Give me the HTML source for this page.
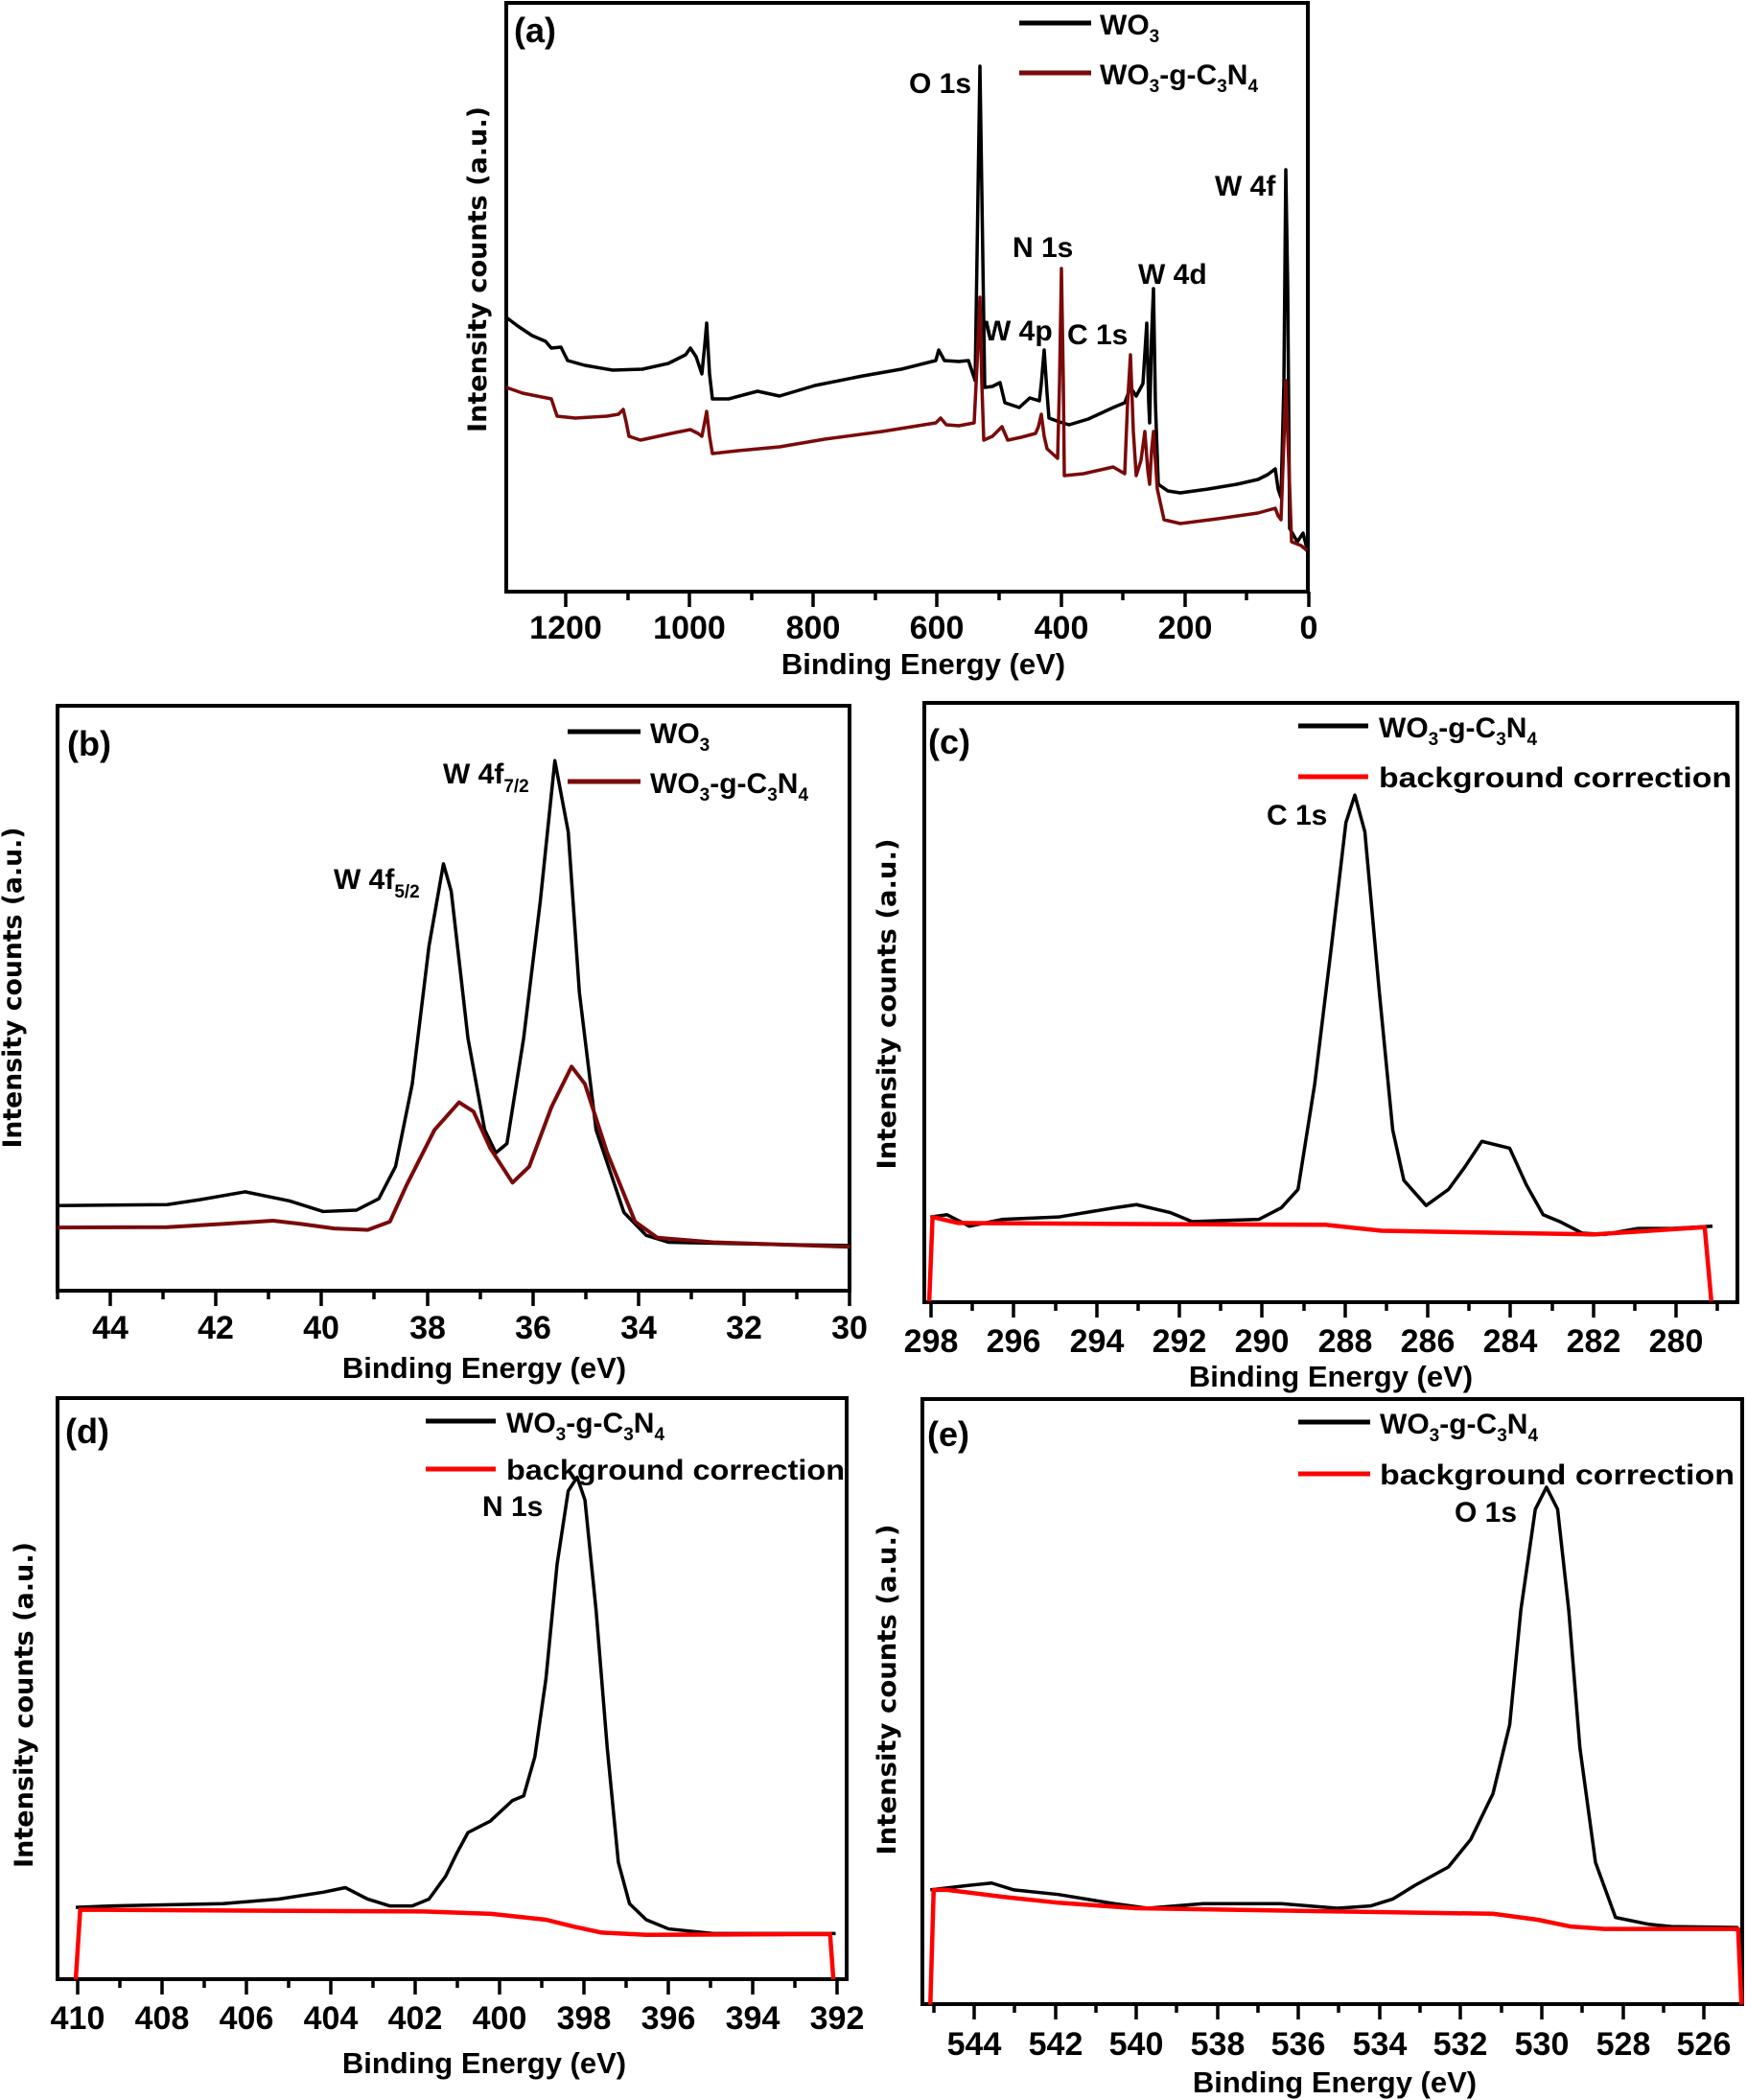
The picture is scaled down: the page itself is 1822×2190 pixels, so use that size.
<!DOCTYPE html>
<html><head><meta charset="utf-8"><style>
html,body{margin:0;padding:0;background:#fff}
svg{display:block}
text{font-family:"Liberation Sans",Arial,sans-serif;font-weight:bold;fill:#000}
.yl{font-family:"DejaVu Sans",sans-serif;font-weight:bold;font-size:27px}
.tk{font-size:34px}
.xl{font-size:31px}
.lg{font-size:30px}
.pk{font-size:30px}
.pl{font-size:36px}
.sub{font-size:19px}
</style></head><body>
<svg width="1822" height="2190" viewBox="0 0 1822 2190" xmlns="http://www.w3.org/2000/svg">
<g fill="none" stroke="#000" stroke-width="4">
<rect x="528" y="3" width="836" height="614"/>
<rect x="60" y="736" width="826" height="610"/>
<rect x="964" y="733" width="848" height="625"/>
<rect x="60" y="1458" width="823" height="606"/>
<rect x="962" y="1459" width="855" height="631"/>
</g>
<g stroke="#000" stroke-width="3.5">
<path d="M590 617v16M719 617v16M848 617v16M977 617v16M1107 617v16M1236 617v16M1365 617v16M655 617v9M784 617v9M913 617v9M1042 617v9M1171 617v9M1300 617v9"/>
<path d="M115 1346v16M225 1346v16M335 1346v16M446 1346v16M556 1346v16M666 1346v16M776 1346v16M886 1346v16M60 1346v9M170 1346v9M280 1346v9M390 1346v9M501 1346v9M611 1346v9M721 1346v9M831 1346v9"/>
<path d="M971 1358v16M1057 1358v16M1144 1358v16M1230 1358v16M1316 1358v16M1403 1358v16M1489 1358v16M1575 1358v16M1662 1358v16M1748 1358v16M1014 1358v9M1101 1358v9M1187 1358v9M1273 1358v9M1360 1358v9M1446 1358v9M1532 1358v9M1619 1358v9M1705 1358v9M1791 1358v9"/>
<path d="M81 2064v16M169 2064v16M257 2064v16M345 2064v16M433 2064v16M521 2064v16M609 2064v16M697 2064v16M785 2064v16M873 2064v16M125 2064v9M213 2064v9M301 2064v9M389 2064v9M477 2064v9M565 2064v9M653 2064v9M741 2064v9M829 2064v9"/>
<path d="M1016 2090v16M1101 2090v16M1185 2090v16M1270 2090v16M1354 2090v16M1439 2090v16M1523 2090v16M1608 2090v16M1693 2090v16M1777 2090v16M974 2090v9M1058 2090v9M1143 2090v9M1227 2090v9M1312 2090v9M1396 2090v9M1481 2090v9M1566 2090v9M1650 2090v9M1735 2090v9"/>
</g>

<g fill="none" stroke-width="3.5" stroke-linejoin="round">
<polyline stroke="#000" points="528,331 540,340 555,350 569,356 575,363 585,362 592,376 610,381 639,386 670,385 697,379 715,370 720,363 726,372 732,390 735,360 737,337 740,390 743,416 760,416 790,408 813,413 850,402 900,392 940,385 976,376 979,365 985,376 1000,377 1010,376 1017,397 1020,200 1022,69 1024,200 1027,404 1035,403 1043,399 1048,420 1063,425 1074,415 1084,418 1086,400 1089,365 1092,410 1094,436 1105,440 1115,443 1135,437 1161,425 1173,420 1179,404 1183,410 1185,413 1192,400 1196,337 1198,420 1199,441 1201,350 1203,301 1205,420 1208,505 1218,512 1231,514 1260,510 1290,505 1312,500 1322,495 1330,489 1333,510 1336,519 1339,400 1341,177 1343,300 1345,551 1353,565 1359,556 1363,572"/>
<polyline stroke="#7a0a0a" points="528,404 545,410 560,413 575,416 581,434 600,436 633,434 645,432 650,427 653,440 656,455 668,459 700,452 720,448 728,452 732,455 735,440 737,429 740,455 743,473 770,470 813,466 860,458 920,450 976,441 981,436 987,443 1000,444 1016,441 1019,380 1022,310 1024,400 1026,459 1035,455 1045,445 1051,459 1065,456 1080,452 1083,445 1086,432 1089,455 1092,468 1103,478 1105,400 1107,280 1109,400 1110,496 1130,494 1161,487 1173,494 1176,420 1179,370 1182,450 1185,496 1190,480 1194,450 1197,490 1199,505 1201,470 1203,450 1207,510 1214,542 1231,546 1270,541 1312,535 1330,530 1333,538 1336,542 1339,460 1341,397 1344,480 1347,565 1357,569 1363,574"/>
</g>

<g transform="translate(0,700) scale(1.162,0.4783)" fill="none" stroke-width="3.5" stroke-linejoin="round">
<polyline vector-effect="non-scaling-stroke" stroke="#000" points="52,1165 150,1163 180,1152 220,1135 260,1155 290,1178 320,1175 340,1150 355,1080 370,900 385,600 398,420 405,480 420,800 435,1000 445,1050 455,1030 470,800 485,500 498,195 510,350 520,700 535,1000 560,1180 580,1230 600,1245 700,1250 763,1252"/>
<polyline vector-effect="non-scaling-stroke" stroke="#7a0a0a" stroke-width="4" points="52,1213 150,1212 200,1205 245,1198 270,1205 300,1215 330,1218 350,1200 365,1120 390,1000 412,940 425,960 440,1040 460,1115 475,1080 495,950 513,862 525,900 545,1050 570,1200 590,1235 640,1245 763,1255"/>
<polyline vector-effect="non-scaling-stroke" stroke="#000" points="835,1190 850,1185 870,1210 900,1195 950,1190 1000,1170 1020,1163 1050,1180 1070,1200 1130,1195 1150,1170 1165,1130 1180,900 1195,600 1208,330 1216,270 1225,350 1238,700 1250,1000 1260,1110 1280,1165 1300,1130 1315,1080 1330,1025 1355,1040 1370,1120 1385,1185 1400,1200 1420,1225 1440,1228 1470,1215 1500,1215 1537,1210"/>
<polyline vector-effect="non-scaling-stroke" stroke="#f00" stroke-width="4.5" points="834,1374 837,1190 860,1203 1000,1205 1190,1207 1240,1220 1430,1228 1530,1212 1536,1374"/>
</g>

<g transform="translate(0,1440) scale(1.162,0.4783)" fill="none" stroke-width="3.5" stroke-linejoin="round">
<polyline vector-effect="non-scaling-stroke" stroke="#000" points="68,1148 100,1145 200,1140 250,1130 290,1115 310,1105 330,1130 350,1145 370,1145 385,1130 400,1080 410,1030 420,985 440,960 460,915 470,905 480,820 490,650 500,400 510,240 518,210 525,260 535,500 545,800 555,1050 565,1140 580,1175 600,1195 640,1205 750,1205"/>
<polyline vector-effect="non-scaling-stroke" stroke="#f00" stroke-width="4.5" points="68,1305 72,1153 200,1155 380,1157 440,1162 490,1175 515,1190 540,1203 580,1208 745,1206 748,1305"/>
<polyline vector-effect="non-scaling-stroke" stroke="#000" points="835,1110 870,1100 890,1095 910,1110 950,1120 1000,1140 1030,1150 1080,1140 1150,1140 1200,1150 1230,1145 1250,1130 1270,1100 1300,1060 1320,1000 1340,900 1355,750 1365,500 1378,280 1388,232 1398,280 1408,500 1418,800 1432,1050 1450,1170 1480,1185 1500,1190 1560,1192"/>
<polyline vector-effect="non-scaling-stroke" stroke="#f00" stroke-width="4.5" points="835,1360 838,1110 850,1110 900,1125 950,1138 1020,1150 1200,1157 1340,1162 1380,1175 1410,1190 1440,1195 1560,1195 1563,1360"/>
</g>

<g stroke-width="5">
<line x1="1063" y1="24" x2="1138" y2="24" stroke="#000"/>
<line x1="1063" y1="76" x2="1138" y2="76" stroke="#7a0a0a"/>
<line x1="592" y1="763" x2="668" y2="763" stroke="#000"/>
<line x1="592" y1="815" x2="668" y2="815" stroke="#7a0a0a"/>
<line x1="1354" y1="757" x2="1427" y2="757" stroke="#000"/>
<line x1="1354" y1="810" x2="1427" y2="810" stroke="#f00"/>
<line x1="444" y1="1482" x2="517" y2="1482" stroke="#000"/>
<line x1="444" y1="1532" x2="517" y2="1532" stroke="#f00"/>
<line x1="1354" y1="1483" x2="1429" y2="1483" stroke="#000"/>
<line x1="1354" y1="1537" x2="1429" y2="1537" stroke="#f00"/>
</g>

<text class="pl" x="536" y="44">(a)</text>
<text class="lg" x="1147" y="36">WO<tspan class="sub" dy="8">3</tspan></text>
<text class="lg" x="1147" y="88">WO<tspan class="sub" dy="8">3</tspan><tspan dy="-8">-g-C</tspan><tspan class="sub" dy="8">3</tspan><tspan dy="-8">N</tspan><tspan class="sub" dy="8">4</tspan></text>
<text class="pk" x="948" y="97">O 1s</text>
<text class="pk" x="1267" y="204">W 4f</text>
<text class="pk" x="1056" y="268">N 1s</text>
<text class="pk" x="1187" y="296">W 4d</text>
<text class="pk" x="1026" y="355">W 4p</text>
<text class="pk" x="1113" y="359">C 1s</text>
<g class="tk" text-anchor="middle">
<text x="590" y="666">1200</text><text x="719" y="666">1000</text><text x="848" y="666">800</text><text x="977" y="666">600</text><text x="1107" y="666">400</text><text x="1236" y="666">200</text><text x="1365" y="666">0</text>
</g>
<text class="xl" x="963" y="703" text-anchor="middle">Binding Energy (eV)</text>
<text class="yl" transform="translate(507,281) rotate(-90)" text-anchor="middle" textLength="340" lengthAdjust="spacingAndGlyphs">Intensity counts (a.u.)</text>

<text class="pl" x="70" y="788">(b)</text>
<text class="lg" x="678" y="775">WO<tspan class="sub" dy="8">3</tspan></text>
<text class="lg" x="678" y="827">WO<tspan class="sub" dy="8">3</tspan><tspan dy="-8">-g-C</tspan><tspan class="sub" dy="8">3</tspan><tspan dy="-8">N</tspan><tspan class="sub" dy="8">4</tspan></text>
<text class="pk" x="462" y="817">W 4f<tspan class="sub" dy="9">7/2</tspan></text>
<text class="pk" x="348" y="927">W 4f<tspan class="sub" dy="9">5/2</tspan></text>
<g class="tk" text-anchor="middle">
<text x="115" y="1396">44</text><text x="225" y="1396">42</text><text x="335" y="1396">40</text><text x="446" y="1396">38</text><text x="556" y="1396">36</text><text x="666" y="1396">34</text><text x="776" y="1396">32</text><text x="886" y="1396">30</text>
</g>
<text class="xl" x="505" y="1437" text-anchor="middle">Binding Energy (eV)</text>
<text class="yl" transform="translate(22,1030) rotate(-90)" text-anchor="middle" textLength="335" lengthAdjust="spacingAndGlyphs">Intensity counts (a.u.)</text>

<text class="pl" x="968" y="786">(c)</text>
<text class="lg" x="1438" y="769">WO<tspan class="sub" dy="8">3</tspan><tspan dy="-8">-g-C</tspan><tspan class="sub" dy="8">3</tspan><tspan dy="-8">N</tspan><tspan class="sub" dy="8">4</tspan></text>
<text class="lg" x="1438" y="821" textLength="368" lengthAdjust="spacingAndGlyphs">background correction</text>
<text class="pk" x="1321" y="860">C 1s</text>
<g class="tk" text-anchor="middle">
<text x="971" y="1410">298</text><text x="1057" y="1410">296</text><text x="1144" y="1410">294</text><text x="1230" y="1410">292</text><text x="1316" y="1410">290</text><text x="1403" y="1410">288</text><text x="1489" y="1410">286</text><text x="1575" y="1410">284</text><text x="1662" y="1410">282</text><text x="1748" y="1410">280</text>
</g>
<text class="xl" x="1388" y="1446" text-anchor="middle">Binding Energy (eV)</text>
<text class="yl" transform="translate(934,1047) rotate(-90)" text-anchor="middle" textLength="345" lengthAdjust="spacingAndGlyphs">Intensity counts (a.u.)</text>

<text class="pl" x="68" y="1505">(d)</text>
<text class="lg" x="528" y="1494">WO<tspan class="sub" dy="8">3</tspan><tspan dy="-8">-g-C</tspan><tspan class="sub" dy="8">3</tspan><tspan dy="-8">N</tspan><tspan class="sub" dy="8">4</tspan></text>
<text class="lg" x="528" y="1543" textLength="353" lengthAdjust="spacingAndGlyphs">background correction</text>
<text class="pk" x="503" y="1581">N 1s</text>
<g class="tk" text-anchor="middle">
<text x="81" y="2116">410</text><text x="169" y="2116">408</text><text x="257" y="2116">406</text><text x="345" y="2116">404</text><text x="433" y="2116">402</text><text x="521" y="2116">400</text><text x="609" y="2116">398</text><text x="697" y="2116">396</text><text x="785" y="2116">394</text><text x="873" y="2116">392</text>
</g>
<text class="xl" x="505" y="2162" text-anchor="middle">Binding Energy (eV)</text>
<text class="yl" transform="translate(34,1778) rotate(-90)" text-anchor="middle" textLength="340" lengthAdjust="spacingAndGlyphs">Intensity counts (a.u.)</text>

<text class="pl" x="967" y="1508">(e)</text>
<text class="lg" x="1439" y="1495">WO<tspan class="sub" dy="8">3</tspan><tspan dy="-8">-g-C</tspan><tspan class="sub" dy="8">3</tspan><tspan dy="-8">N</tspan><tspan class="sub" dy="8">4</tspan></text>
<text class="lg" x="1439" y="1548" textLength="370" lengthAdjust="spacingAndGlyphs">background correction</text>
<text class="pk" x="1517" y="1587">O 1s</text>
<g class="tk" text-anchor="middle">
<text x="1016" y="2143">544</text><text x="1101" y="2143">542</text><text x="1185" y="2143">540</text><text x="1270" y="2143">538</text><text x="1354" y="2143">536</text><text x="1439" y="2143">534</text><text x="1523" y="2143">532</text><text x="1608" y="2143">530</text><text x="1693" y="2143">528</text><text x="1777" y="2143">526</text>
</g>
<text class="xl" x="1392" y="2182" text-anchor="middle">Binding Energy (eV)</text>
<text class="yl" transform="translate(934,1762) rotate(-90)" text-anchor="middle" textLength="345" lengthAdjust="spacingAndGlyphs">Intensity counts (a.u.)</text>
</svg>
</body></html>
